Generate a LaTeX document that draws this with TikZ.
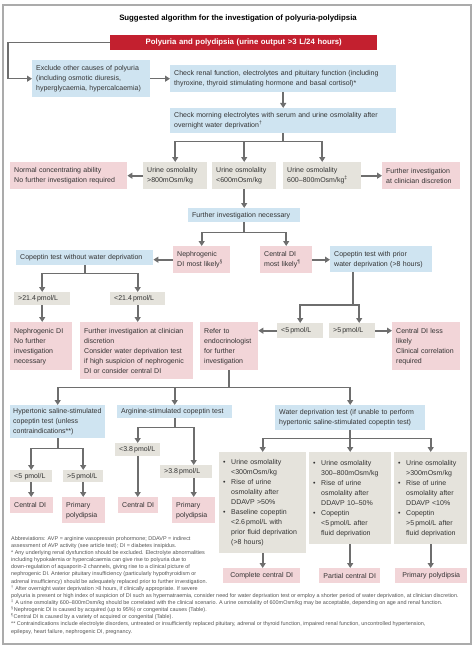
\documentclass[tikz,border=0pt]{standalone}
\usepackage{fontspec}
\setmainfont{Liberation Sans}
\usetikzlibrary{arrows.meta}
\definecolor{boxblue}{HTML}{CFE4F1}
\definecolor{boxpink}{HTML}{F2D5D8}
\definecolor{boxgray}{HTML}{E5E3DC}
\definecolor{boxred}{HTML}{C3202F}
\definecolor{arrgray}{HTML}{6E6E6E}
\definecolor{txtgray}{HTML}{333333}
\definecolor{framegray}{HTML}{ABABAB}
\newcommand{\boxfs}{\fontsize{7}{10}\selectfont}
\newcommand{\titlefs}{\fontsize{7.8}{9}\selectfont\bfseries}
\newcommand{\notefs}{\fontsize{5.45}{7.15}\selectfont}
\newcommand{\blt}{\makebox[8pt][l]{\textbullet}}
\newcommand{\hng}{\hspace*{8pt}}
\tikzset{
	box/.style={anchor=north west, inner xsep=4pt, inner ysep=0pt, align=left, font=\boxfs, text=txtgray},
	bluebox/.style={box, fill=boxblue},
	pinkbox/.style={box, fill=boxpink},
	graybox/.style={box, fill=boxgray},
	line/.style={draw=arrgray, line width=1.6pt},
	arr/.style={line, -{Triangle[length=5pt,width=6pt]}}
}
\begin{document}
\begin{tikzpicture}[x=1pt, y=-1pt]
		\useasboundingbox (0,0) rectangle (474,650);
		\draw[framegray, line width=1.2pt] (3,5) rectangle (471,644);
		
		\node[font=\titlefs] at (238,19) (title) {Suggested algorithm for the investigation of polyuria-polydipsia};
		\node[box, fill=boxred, text=white, font=\titlefs, align=center, text width=259pt, minimum height=15pt] at (110,35) (poly) {Polyuria and polydipsia (urine output >3 L/24 hours)};
		
		\node[bluebox, text width=110pt, minimum height=37pt] at (32,60) (excl) {Exclude other causes of polyuria\\(including osmotic diuresis,\\hyperglycaemia, hypercalcaemia)};
		\node[bluebox, text width=218pt, minimum height=27pt] at (170,65) (renal) {Check renal function, electrolytes and pituitary function (including\\thyroxine, thyroid stimulating hormone and basal cortisol)*};
		\node[bluebox, text width=218pt, minimum height=25pt] at (170,108) (morning) {Check morning electrolytes with serum and urine osmolality after\\overnight water deprivation\textsuperscript{†}};
		
		\node[pinkbox, text width=109pt, minimum height=27pt] at (10,162) (normal) {Normal concentrating ability\\No further investigation required};
		\node[graybox, text width=56pt, minimum height=27pt] at (143,162) (osmhigh) {Urine osmolality\\>800mOsm/kg};
		\node[graybox, text width=56pt, minimum height=27pt] at (212,162) (osmlow) {Urine osmolality\\<600mOsm/kg};
		\node[graybox, text width=70pt, minimum height=27pt] at (283,162) (osmmid) {Urine osmolality\\600–800mOsm/kg\textsuperscript{‡}};
		\node[pinkbox, text width=70pt, minimum height=27pt] at (382,162) (furthera) {Further investigation\\at clinician discretion};
		
		\node[bluebox, text width=104pt, minimum height=14pt] at (188,208) (furthernec) {Further investigation necessary};
		\node[pinkbox, text width=49pt, minimum height=27pt] at (173,246) (nephlikely) {Nephrogenic\\DI most likely\textsuperscript{§}};
		\node[pinkbox, text width=44pt, minimum height=27pt] at (260,246) (centlikely) {Central DI\\most likely\textsuperscript{¶}};
		\node[bluebox, text width=129pt, minimum height=15pt] at (16,250) (copwithout) {Copeptin test without water deprivation};
		\node[bluebox, text width=94pt, minimum height=26pt] at (330,246) (copwith) {Copeptin test with prior\\water deprivation (>8 hours)};
		
		\node[graybox, text width=48pt, minimum height=13pt] at (14,292) (gt214) {>21.4\,pmol/L};
		\node[graybox, text width=47pt, minimum height=13pt] at (110,292) (lt214) {<21.4\,pmol/L};
		\node[pinkbox, text width=54pt, minimum height=48pt] at (10,322) (nephdi) {Nephrogenic DI\\No further\\investigation\\necessary};
		\node[pinkbox, text width=105pt, minimum height=57pt] at (80,322) (furtherb) {Further investigation at clinician\\discretion\\Consider water deprivation test\\if high suspicion of nephrogenic\\DI or consider central DI};
		\node[pinkbox, text width=50pt, minimum height=48pt] at (200,322) (refer) {Refer to\\endocrinologist\\for further\\investigation};
		\node[graybox, text width=38pt, minimum height=15pt] at (277,323) (lt5) {<5\,pmol/L};
		\node[graybox, text width=38pt, minimum height=15pt] at (329,323) (gt5) {>5\,pmol/L};
		\node[pinkbox, text width=60pt, minimum height=48pt] at (392,322) (cdiless) {Central DI less\\likely\\Clinical correlation\\required};
		
		\node[bluebox, inner xsep=3pt, text width=89pt, minimum height=33pt] at (10,405) (hypert) {\mbox{Hypertonic saline-stimulated}\\copeptin test (unless\\contraindications**)};
		\node[bluebox, text width=107pt, minimum height=13pt] at (117,405) (argin) {Arginine-stimulated copeptin test};
		\node[bluebox, text width=142pt, minimum height=25pt] at (275,405) (waterdep) {Water deprivation test (if unable to perform\\hypertonic saline-stimulated copeptin test)};
		
		\node[graybox, text width=34pt, minimum height=12pt] at (10,470) (lt5b) {<5 pmol/L};
		\node[graybox, text width=32pt, minimum height=12pt] at (63,470) (gt5b) {>5\,pmol/L};
		\node[pinkbox, text width=35pt, minimum height=16pt] at (10,497) (cdia) {Central DI};
		\node[pinkbox, text width=35pt, minimum height=26pt] at (62,497) (primarya) {Primary\\polydipsia};
		\node[graybox, text width=37pt, minimum height=13pt] at (115,443) (lt38) {<3.8\,pmol/L};
		\node[graybox, text width=44pt, minimum height=13pt] at (160,465) (gt38) {>3.8\,pmol/L};
		\node[pinkbox, text width=32pt, minimum height=16pt] at (118,497) (cdib) {Central DI};
		\node[pinkbox, text width=35pt, minimum height=26pt] at (172,497) (primaryb) {Primary\\polydipsia};
		
		\node[graybox, text width=79pt, minimum height=101pt] at (219,452) (wd1) {\blt Urine osmolality\\\hng <300mOsm/kg\\\blt Rise of urine\\\hng osmolality after\\\hng DDAVP >50\%\\\blt Baseline copeptin\\\hng <2.6\,pmol/L with\\\hng prior fluid deprivation\\\hng (>8 hours)};
		\node[graybox, text width=74pt, minimum height=92pt] at (309,452) (wd2) {\blt Urine osmolality\\\hng 300–800mOsm/kg\\\blt Rise of urine\\\hng osmolality after\\\hng DDAVP 10–50\%\\\blt Copeptin\\\hng <5\,pmol/L after\\\hng fluid deprivation};
		\node[graybox, text width=65pt, minimum height=92pt] at (394,452) (wd3) {\blt Urine osmolality\\\hng >300mOsm/kg\\\blt Rise of urine\\\hng osmolality after\\\hng DDAVP <10\%\\\blt Copeptin\\\hng >5\,pmol/L after\\\hng fluid deprivation};
		\node[pinkbox, align=center, text width=69pt, minimum height=15pt] at (223,568) (rescomp) {Complete central DI};
		\node[pinkbox, align=center, text width=53pt, minimum height=15pt] at (319,568) (respart) {Partial central DI};
		\node[pinkbox, align=center, text width=64pt, minimum height=15pt] at (395,568) (resprim) {Primary polydipsia};
		
		% footnotes
		\node[anchor=north west, inner sep=0pt, align=left, font=\notefs, text=txtgray!85] at (11,536) (notes) {Abbreviations: AVP = arginine vasopressin prohormone; DDAVP = indirect\\
assessment of AVP activity (see article text); DI = diabetes insipidus.\\
* Any underlying renal dysfunction should be excluded. Electrolyte abnormalities\\
including hypokalemia or hypercalcaemia can give rise to polyuria due to\\
down-regulation of aquaporin-2 channels, giving rise to a clinical picture of\\
nephrogenic DI. Anterior pituitary insufficiency (particularly hypothyroidism or\\
adrenal insufficiency) should be adequately replaced prior to further investigation.\\
\textsuperscript{†} After overnight water deprivation >8 hours, if clinically appropriate. If severe\\
polyuria is present or high index of suspicion of DI such as hypernatraemia, consider need for water deprivation test or employ a shorter period of water deprivation, at clinician discretion.\\
\textsuperscript{‡} A urine osmolality 600–800mOsm/kg should be correlated with the clinical scenario. A urine osmolality of 600mOsm/kg may be acceptable, depending on age and renal function.\\
\textsuperscript{§}Nephrogenic DI is caused by acquired (up to 95\%) or congenital causes (Table).\\
\textsuperscript{¶}Central DI is caused by a variety of acquired or congenital (Table).\\
** Contraindications include electrolyte disorders, untreated or insufficiently replaced pituitary, adrenal or thyroid function, impaired renal function, uncontrolled hypertension,\\
epilepsy, heart failure, nephrogenic DI, pregnancy.};
		
		% connectors
		\coordinate (loop) at (8,0);
		\draw[arr] (poly.west) -- (poly.west -| loop) |- (excl.west);
		\draw[arr] (excl.east) -- (renal.west);
		\draw[arr] (renal.south) -- (morning.north);
		\draw[line] (morning.south) -- ++(0,8) coordinate (sp1);
		\foreach \n in {osmhigh,osmlow,osmmid} \draw[arr] (sp1) -| (\n.north);
		\draw[arr] (osmhigh.west) -- (normal.east);
		\draw[arr] (osmmid.east) -- (furthera.west);
		\draw[arr] (osmlow.south) -- (furthernec.north);
		\draw[line] (furthernec.south) -- ++(0,10) coordinate (sp2);
		\foreach \n in {nephlikely,centlikely} \draw[arr] (sp2) -| (\n.north);
		\draw[arr] (nephlikely.west) -- (nephlikely.west -| copwithout.east);
		\draw[arr] (centlikely.east) -- (centlikely.east -| copwith.west);
		
		\draw[line] (copwithout.south) -- ++(0,8) coordinate (sp3);
		\foreach \n in {gt214,lt214} \draw[arr] (sp3) -| (\n.north);
		\draw[arr] (gt214.south) -- (gt214.south |- nephdi.north);
		\draw[arr] (lt214.south) -- (lt214.south |- furtherb.north);
		\coordinate (sp4) at (353,305);
		\draw[line] (copwith.south -| sp4) -- (sp4);
		\draw[arr] (sp4) -| (lt5.north);
		\draw[arr] (sp4) -| ([xshift=7pt]gt5.north);
		\draw[arr] (lt5.west) -- (lt5.west -| refer.east);
		\draw[arr] (gt5.east) -- (gt5.east -| cdiless.west);
		
		\draw[line] (refer.south) -- ++(0,17) coordinate (sp5);
		\foreach \n in {hypert,argin,waterdep} \draw[arr] (sp5) -| (\n.north);
		\draw[line] (hypert.south) -- ++(0,10) coordinate (sp6);
		\foreach \n in {lt5b,gt5b} \draw[arr] (sp6) -| (\n.north);
		\draw[arr] (lt5b.south) -- (lt5b.south |- cdia.north);
		\draw[arr] (gt5b.south) -- (gt5b.south |- primarya.north);
		\draw[line] (argin.south) -- ++(0,9) coordinate (sp7);
		\draw[arr] (sp7) -| (lt38.north);
		\draw[arr] (sp7) -| (gt38.north -| primaryb.north);
		\draw[arr] (lt38.south) -- (lt38.south |- cdib.north);
		\draw[arr] (primaryb.north |- gt38.south) -- (primaryb.north);
		\draw[line] (waterdep.south) -- ++(0,8) coordinate (sp8);
		\foreach \n in {wd1,wd2,wd3} \draw[arr] (sp8) -| (\n.north);
		\draw[arr] (wd1.south) -- (wd1.south |- rescomp.north);
		\draw[arr] (wd2.south) -- (wd2.south |- respart.north);
		\draw[arr] (wd3.south) -- (wd3.south |- resprim.north);
\end{tikzpicture}
\end{document}
